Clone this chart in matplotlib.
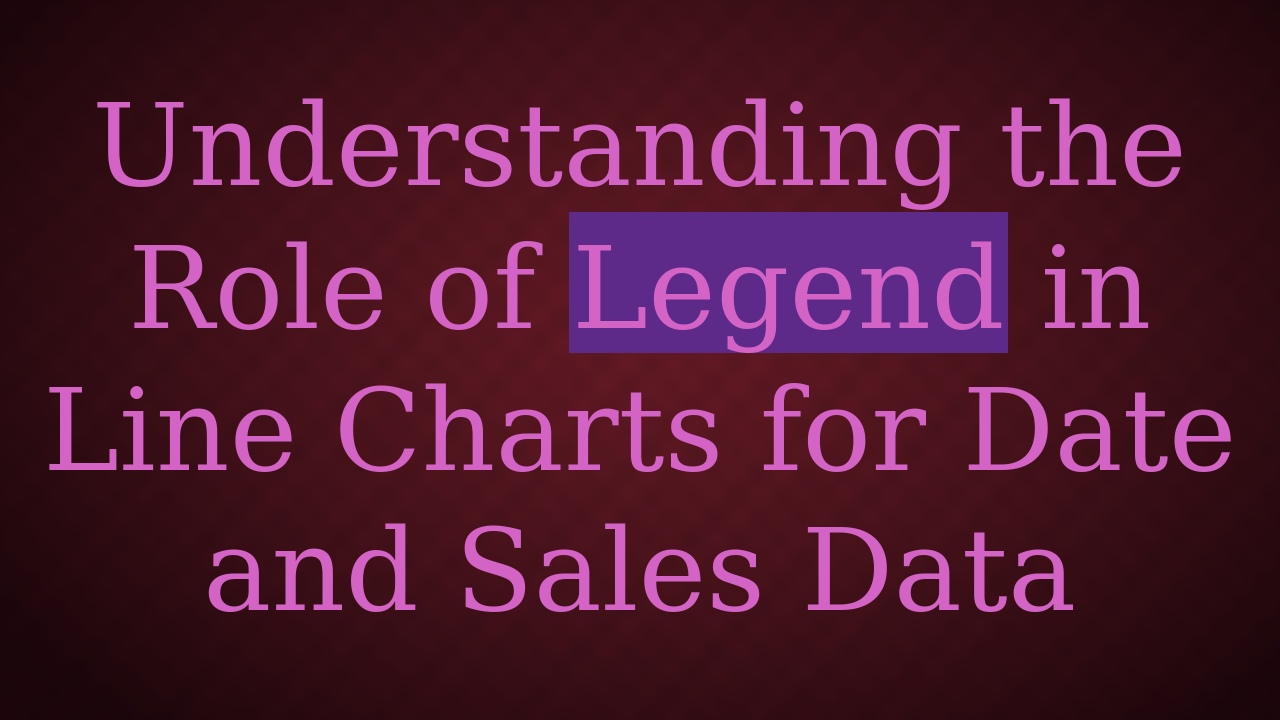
import matplotlib.pyplot as plt
import numpy as np
from matplotlib.patches import Rectangle

# title card text, one entry per line
LINES = ["Understanding the", "Role of Legend in", "Line Charts for Date", "and Sales Data"]
BASELINES = [185, 328, 470, 610]
HIGHLIGHT_LINE = 1
HIGHLIGHT_WORD = "Legend"

TEXT_COLOR = "#d364c6"
BOX_COLOR = "#5e2a8a"
W, H = 1280, 720

fig = plt.figure(figsize=(12.8, 7.2), dpi=100)
ax = fig.add_axes([0, 0, 1, 1])
ax.set_xlim(0, W)
ax.set_ylim(H, 0)
ax.axis("off")

# vignette background with a faint damask-like pattern
yy, xx = np.mgrid[0:H, 0:W]
r = np.sqrt(((xx - W * 0.52) / (W * 0.62)) ** 2 + ((yy - H * 0.45) / (H * 0.75)) ** 2)
t = np.clip(r, 0, 1) ** 1.3
center = np.array([0.38, 0.10, 0.14])
edge = np.array([0.11, 0.025, 0.045])
bg = center[None, None, :] * (1 - t[..., None]) + edge[None, None, :] * t[..., None]
pattern = np.sin(xx / 7.0) * np.sin(yy / 7.0) + np.sin((xx + yy) / 11.0) * 0.5
bg = bg * (1 + 0.035 * pattern[..., None])
ax.imshow(np.clip(bg, 0, 1), extent=(0, W, H, 0), zorder=0, interpolation="bilinear")

font = dict(family="DejaVu Serif", fontsize=82.5, color=TEXT_COLOR)

fig.canvas.draw()
renderer = fig.canvas.get_renderer()


def text_width(s):
    t = ax.text(0, 0, s, **font)
    w = t.get_window_extent(renderer).width
    t.remove()
    return w


for i, (line, base) in enumerate(zip(LINES, BASELINES)):
    ax.text(W / 2, base, line, ha="center", va="baseline", zorder=3, **font)
    if i == HIGHLIGHT_LINE:
        full = text_width(line)
        idx = line.index(HIGHLIGHT_WORD)
        upto = text_width(line[: idx + len(HIGHLIGHT_WORD)])
        word = text_width(HIGHLIGHT_WORD)
        x0 = W / 2 - full / 2 + upto - word
        ax.add_patch(Rectangle((x0 - 3, base - 116), word + 6, 141,
                               facecolor=BOX_COLOR, edgecolor="none", zorder=2))

fig.savefig("out.png", dpi=100)
